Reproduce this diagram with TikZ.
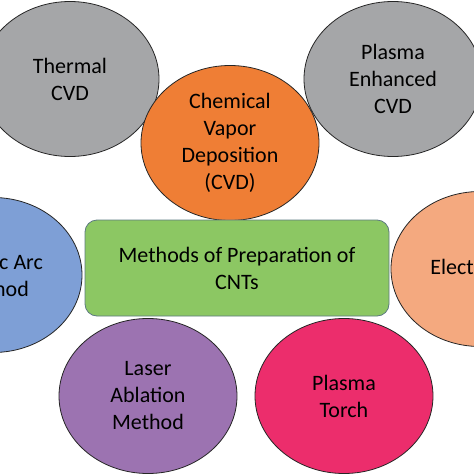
\documentclass[tikz,border=0pt]{standalone}
\usepackage{fontspec}
\setmainfont{Carlito}
\usetikzlibrary{shapes.geometric}
\definecolor{cgray}{HTML}{A5A6A8}
\definecolor{corange}{HTML}{EF7E35}
\definecolor{cgreen}{HTML}{8CC763}
\definecolor{cblue}{HTML}{7E9FD6}
\definecolor{csalmon}{HTML}{F4A97F}
\definecolor{cpurple}{HTML}{9C73B1}
\definecolor{cpink}{HTML}{EC2D6C}
\definecolor{cedge}{HTML}{5C7A80}

\begin{document}
\begin{tikzpicture}[x=1pt, y=-1pt,
  blob/.style={ellipse, draw=black!85, line width=0.8pt, inner sep=0pt, align=center,
    minimum width=178pt, minimum height=155pt, font=\fontsize{22}{27}\selectfont},
  hub/.style={draw=cedge, fill=cgreen, line width=0.8pt, rounded corners=12pt, align=center,
    minimum width=304pt, minimum height=96pt, font=\fontsize{22}{27}\selectfont}]
  \useasboundingbox (0,0) rectangle (474,474);
  \clip (0,0) rectangle (474,474);
  \node[blob, fill=cgray] (thermal) at (70,79) {Thermal\\CVD};
  \node[blob, fill=cgray] (pecvd) at (393,79) {Plasma\\Enhanced\\CVD};
  \node[blob, fill=corange] (cvd) at (230,143) {Chemical\\Vapor\\Deposition\\(CVD)};
  \node[blob, fill=cblue] (arc) at (-7,275) {Electric Arc\\Method};
  \node[blob, fill=csalmon] (electro) at (480,269) {Electrolysis};
  \node[hub] (methods) at (237,268) {Methods of Preparation of\\CNTs};
  \node[blob, fill=cpurple] (laser) at (148,396) {Laser\\Ablation\\Method};
  \node[blob, fill=cpink] (torch) at (344,396) {Plasma\\Torch};
\end{tikzpicture}
\end{document}
